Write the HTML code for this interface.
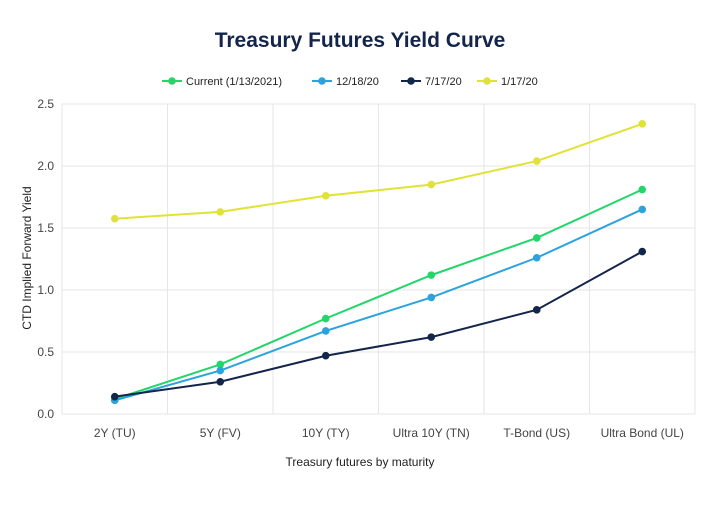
<!DOCTYPE html>
<html><head><meta charset="utf-8"><style>
body{margin:0;background:#fff;font-family:"Liberation Sans",sans-serif;}
svg text{font-family:"Liberation Sans",sans-serif;}
</style></head><body>
<svg id="chart" width="720" height="500">
<text x="360" y="47" text-anchor="middle" font-size="21" font-weight="bold" fill="#13254a">Treasury Futures Yield Curve</text>
<g id="legend"></g>
<g id="grid"></g>
<g id="series"></g>
<text x="360" y="466" text-anchor="middle" font-size="12" fill="#222">Treasury futures by maturity</text>
<text transform="translate(31,258) rotate(-90)" text-anchor="middle" font-size="12" fill="#222">CTD Implied Forward Yield</text>
</svg>
<script>
const categories=["2Y (TU)","5Y (FV)","10Y (TY)","Ultra 10Y (TN)","T-Bond (US)","Ultra Bond (UL)"];
const seriesNames=["Current (1/13/2021)","12/18/20","7/17/20","1/17/20"];
const current=[0.12,0.40,0.77,1.12,1.42,1.81];
const dec18=[0.11,0.35,0.67,0.94,1.26,1.65];
const jul17=[0.14,0.26,0.47,0.62,0.84,1.31];
const jan17=[1.575,1.63,1.76,1.85,2.04,2.34];
const yTicks=[0,0.5,1.0,1.5,2.0,2.5];
const colors=["#22d66a","#2ba3dd","#13254a","#e0e336"];
const allSeries=[current,dec18,jul17,jan17];
const NS="http://www.w3.org/2000/svg";
const L=62,R=695,T=104,B=414,yMax=2.5;
const bw=(R-L)/categories.length;
const x=i=>L+bw*(i+0.5);
const y=v=>B-v/yMax*(B-T);
function mk(tag,attrs,parent){const e=document.createElementNS(NS,tag);for(const k in attrs)e.setAttribute(k,attrs[k]);parent.appendChild(e);return e;}
const grid=document.getElementById('grid');
yTicks.forEach(t=>{
  const l=mk('line',{x1:L,x2:R,y1:y(t),y2:y(t),stroke:'#e6e6e6','stroke-width':1},grid);
  
  
  const tx=mk('text',{x:L-8,y:y(t)+4,'text-anchor':'end','font-size':12,fill:'#444'},grid);
  tx.textContent=t.toFixed(1);
  
  
});
for(let i=0;i<=categories.length;i++){
  const l=mk('line',{x1:L+bw*i,x2:L+bw*i,y1:T,y2:B,stroke:'#e6e6e6','stroke-width':1},grid);
  
  
}
categories.forEach((c,i)=>{
  const tx=mk('text',{x:x(i),y:437,'text-anchor':'middle','font-size':12,fill:'#444'},grid);
  tx.textContent=c;
  
  
});
const sg=document.getElementById('series');
[3,0,1,2].forEach(s=>{
  const data=allSeries[s];
  const g=mk('g',{},sg);
  
  
  const pl=mk('polyline',{points:data.map((v,i)=>x(i)+','+y(v)).join(' '),fill:'none',stroke:colors[s],'stroke-width':2},g);
  
  
  data.forEach((v,i)=>{
    const c=mk('circle',{cx:x(i),cy:y(v),r:3.8,fill:colors[s]},g);
    
    
  });
});
const lg=document.getElementById('legend');
const lx=[162,312,401,477];
seriesNames.forEach((n,i)=>{
  const g=mk('g',{},lg);
  
  
  mk('line',{x1:lx[i],x2:lx[i]+20,y1:81,y2:81,stroke:colors[i],'stroke-width':2},g);
  mk('circle',{cx:lx[i]+10,cy:81,r:3.8,fill:colors[i]},g);
  const t=mk('text',{x:lx[i]+24,y:85,'font-size':11,fill:'#222'},g);
  t.textContent=n;
});
</script>
</body></html>
